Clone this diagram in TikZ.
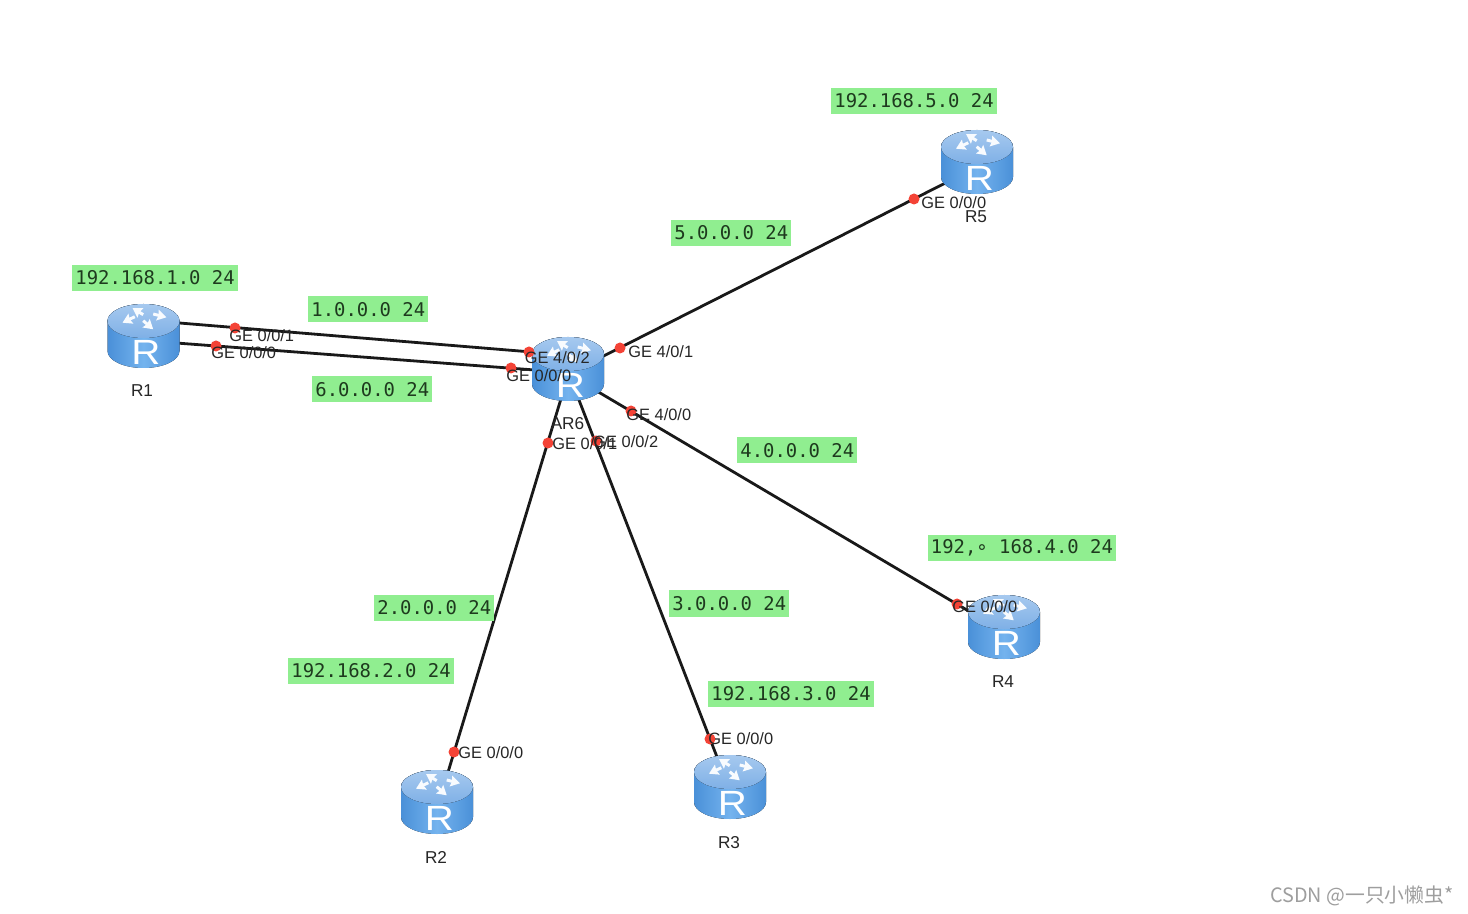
\documentclass[tikz,border=0pt]{standalone}
\usepackage{fontspec}
\setmainfont{Liberation Sans}
\newfontfamily\labelmono{DejaVu Sans Mono}
\newfontfamily\cjkwm{Noto Sans CJK SC}
\usetikzlibrary{arrows.meta}
\pgfdeclarelayer{back}
\pgfsetlayers{back,main}
\definecolor{routertopa}{HTML}{A6C9EF}
\definecolor{routertopb}{HTML}{7FB0E6}
\definecolor{routerdark}{HTML}{4A90D8}
\definecolor{routerlight}{HTML}{74B3EE}
\definecolor{netgreen}{HTML}{90EE90}
\definecolor{portred}{HTML}{F44336}
\definecolor{nettext}{HTML}{1E3A1E}
\tikzset{
  x=0.5pt,y=-0.5pt,
  routerbox/.style={minimum width=36pt,minimum height=32pt,inner sep=0pt,outer sep=0pt},
  link/.style={draw=black!90,line width=1.4pt},
  netlabel/.style={fill=netgreen,text=nettext,font=\labelmono\fontsize{9.45}{11}\selectfont,anchor=west,inner xsep=1.5pt,inner ysep=0pt,minimum height=13pt},
  portlabel/.style={anchor=west,inner sep=0pt,text=black!85,font=\fontsize{8.2}{10}\selectfont},
  routername/.style={anchor=center,inner sep=0pt,text=black!85,font=\fontsize{8.6}{10}\selectfont},
  portdot/.style={circle,fill=portred,minimum size=5.5pt,inner sep=0pt,outer sep=0pt},
  routerarrow/.style={white!92!routertopa,line width=1.5pt,-{Stealth[length=4.6pt,width=5.4pt,inset=0.6pt]}},
}
\newcommand{\routerat}[3]{%
  \node[routerbox] (#1) at (#2,#3) {};
  \begin{scope}[shift={(#2,#3)}]
    \fill[left color=routerdark,right color=routerdark,middle color=routerlight]
      (-36,-15) -- (-36,15) arc[start angle=180,end angle=360,x radius=18pt,y radius=8.5pt] -- (36,-15)
      arc[start angle=0,end angle=180,x radius=18pt,y radius=8.5pt] -- cycle;
    \fill[top color=routertopa,bottom color=routertopb] (0,-15) ellipse[x radius=18pt,y radius=8.5pt];
    \draw[routerarrow] (-0.3,-21.3) -- (-11,-28);
    \draw[routerarrow] (-8.7,-19.3) -- (-21,-13.3);
    \draw[routerarrow] (9.7,-22) -- (23,-18.7);
    \draw[routerarrow] (-0.3,-15.3) -- (9.7,-6.7);
    \node[text=white,inner sep=0pt,xscale=1.15,font=\fontsize{17.5}{18}\selectfont] (#1glyph) at (2.5,16) {R};
  \end{scope}}
\newcommand{\netlab}[4]{\node[netlabel] (#1) at (#2,#3) {#4};}
\newcommand{\portlab}[4]{\node[portlabel] (#1) at (#2,#3) {#4};}
\begin{document}
\begin{tikzpicture}
\begin{pgfonlayer}{back}
  \fill[white] (0,0) rectangle (1468,914);
\end{pgfonlayer}
\useasboundingbox (0,0) rectangle (1468,914);
\routerat{r1}{143.5}{336}
\routerat{r6}{568}{369}
\routerat{r5}{977}{162}
\routerat{r4}{1004}{627}
\routerat{r3}{730}{787}
\routerat{r2}{437}{802}
\coordinate (r1up) at (143,320);
\coordinate (r6up) at (568,355);
\coordinate (r1dn) at (143,340.5);
\coordinate (r6dn) at (568,372.5);
\begin{pgfonlayer}{back}
  \draw[link] (r1up) -- (r6up);
  \draw[link] (r1dn) -- (r6dn);
  \draw[link] ([yshift=-2.5pt]r6.center) -- ([yshift=-2.5pt]r5.center);
  \draw[link] ([xshift=1pt]r6.center) -- ([xshift=1pt]r2.center);
  \draw[link] ([xshift=-0.5pt]r6.center) -- ([xshift=-0.7pt]r3.center);
  \draw[link] ([yshift=-2.5pt]r6.center) -- ([yshift=-2.5pt]r4.center);
\end{pgfonlayer}
\foreach \n/\x/\y in {a/235/328,b/216/346,c/529/352,d/511/368,e/620/348,f/631/411,g/548/443,h/596/441,i/914/199,j/957/604,k/454/752,l/710/739}
  \node[portdot] (dot\n) at (\x,\y) {};
\netlab{n1}{831}{101}{192.168.5.0 24}
\netlab{n2}{671}{233}{5.0.0.0 24}
\netlab{n3}{72}{278}{192.168.1.0 24}
\netlab{n4}{308}{309.5}{1.0.0.0 24}
\netlab{n5}{312}{389.5}{6.0.0.0 24}
\netlab{n6}{737}{450.5}{4.0.0.0 24}
\netlab{n7}{927.5}{548}{192,∘ 168.4.0 24}
\netlab{n8}{374}{608}{2.0.0.0 24}
\netlab{n9}{669}{603.5}{3.0.0.0 24}
\netlab{n10}{288}{671}{192.168.2.0 24}
\netlab{n11}{708}{694}{192.168.3.0 24}
\portlab{p1}{229}{336}{GE 0/0/1}
\portlab{p2}{211}{353}{GE 0/0/0}
\portlab{p3}{524.5}{358}{GE 4/0/2}
\portlab{p4}{506}{376}{GE 0/0/0}
\portlab{p5}{628}{352}{GE 4/0/1}
\portlab{p6}{626}{415}{GE 4/0/0}
\portlab{p7}{552}{443.5}{GE 0/0/1}
\portlab{p8}{593}{442}{GE 0/0/2}
\portlab{p9}{921}{203}{GE 0/0/0}
\portlab{p10}{952}{607}{GE 0/0/0}
\portlab{p11}{458}{752.5}{GE 0/0/0}
\portlab{p12}{708}{739}{GE 0/0/0}
\node[routername] (l1) at (142,390.5) {R1};
\node[routername] (l6) at (567.5,423.5) {AR6};
\node[routername] (l5) at (976,216.5) {R5};
\node[routername] (l4) at (1003,681.5) {R4};
\node[routername] (l3) at (729,842.5) {R3};
\node[routername] (l2) at (436,857) {R2};
\node[anchor=east,inner sep=0pt,text=black!38,font=\cjkwm\fontsize{9.9}{11}\selectfont] (wm) at (1454,895.5) {CSDN @一只小懒虫*};
\end{tikzpicture}
\end{document}
